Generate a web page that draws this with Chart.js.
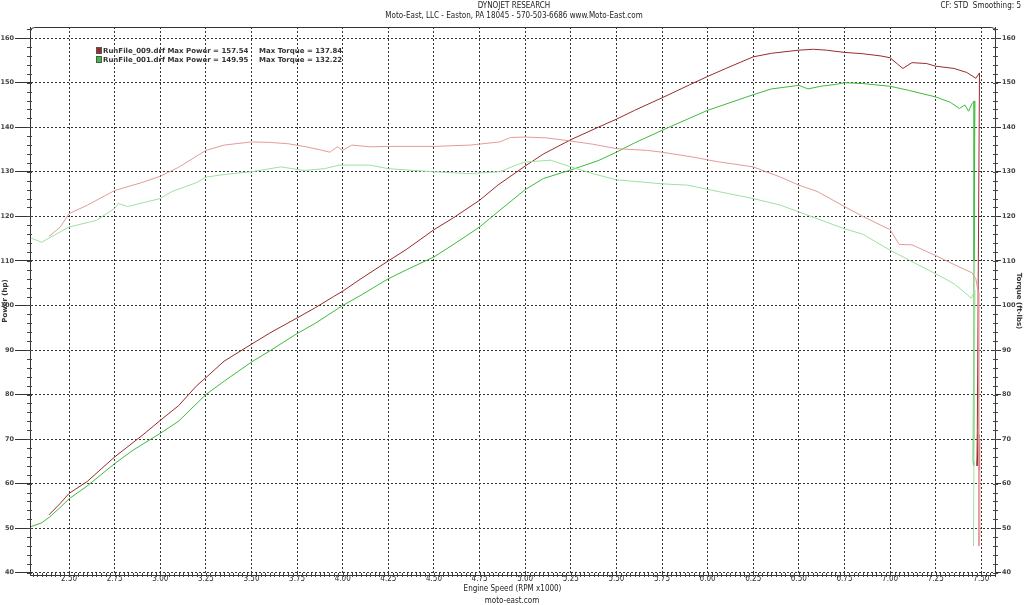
<!DOCTYPE html>
<html><head><meta charset="utf-8">
<script src="https://cdn.jsdelivr.net/npm/chart.js@4.4.0/dist/chart.umd.min.js"></script>
<style>html,body{margin:0;padding:0;background:#fff;}#wrap{width:1024px;height:605px;position:relative;}</style>
</head><body><div id="wrap"><canvas id="c" width="1024" height="605"></canvas></div>
<script>
// ---- tick labels ----
const rpmTicks = [2.50,2.75,3.00,3.25,3.50,3.75,4.00,4.25,4.50,4.75,5.00,5.25,5.50,5.75,6.00,6.25,6.50,6.75,7.00,7.25,7.50];
const valueTicks = [40,50,60,70,80,90,100,110,120,130,140,150,160];

// ---- RunFile_009 (red) power ----
const run009PowerRpm = [2.39,2.45,2.50,2.60,2.75,2.90,3.00,3.10,3.20,3.25,3.35,3.50,3.60,3.75,3.85,3.95,4.00,4.10,4.25,4.35,4.50,4.60,4.75,4.85,5.00,5.10,5.25,5.40,5.50,5.60,5.75,5.90,6.00,6.10,6.25,6.35,6.50,6.58,6.65,6.75,6.85,6.95,7.00,7.04,7.07,7.12,7.20,7.25,7.35,7.42,7.47,7.49,7.478,7.476,7.487,7.483,7.49,7.489];
const run009Power    = [53.0,55.5,57.8,60.5,66.0,70.8,74.2,77.5,82.0,83.8,87.5,91.3,93.8,97.2,99.5,102.0,103.2,106.0,110.0,112.6,117.0,119.5,123.6,127.0,131.3,134.0,137.2,140.0,141.8,143.8,146.6,149.5,151.4,153.2,155.8,156.6,157.3,157.5,157.3,156.8,156.5,156.0,155.6,154.2,153.2,154.5,154.3,153.7,153.2,152.3,151.0,152.2,72.0,64.0,71.0,64.0,69.0,63.0];
// ---- RunFile_009 (red) torque ----
const run009TorqueRpm = [2.39,2.45,2.50,2.60,2.75,2.90,3.00,3.10,3.25,3.35,3.50,3.60,3.70,3.80,3.87,3.93,3.97,4.00,4.05,4.15,4.25,4.50,4.70,4.86,4.92,5.00,5.12,5.25,5.37,5.50,5.67,5.75,5.92,6.05,6.25,6.40,6.50,6.60,6.75,6.85,7.00,7.05,7.12,7.25,7.35,7.45,7.47,7.483,7.486,7.487,7.49,7.492];
const run009Torque    = [115.5,117.5,120.6,122.5,125.8,127.6,129.0,131.0,134.8,136.0,136.7,136.6,136.3,135.6,135.0,134.4,135.6,134.8,136.0,135.6,135.7,135.7,136.0,136.7,137.7,137.8,137.6,136.9,136.2,135.2,134.8,134.4,133.3,132.3,131.1,128.8,127.0,125.6,122.2,120.0,117.0,113.7,113.6,111.2,109.2,107.3,106.0,103.0,60.0,46.0,48.0,70.0];

// ---- RunFile_001 (green) power ----
const run001PowerRpm = [2.28,2.35,2.39,2.45,2.50,2.60,2.75,2.85,3.00,3.10,3.25,3.35,3.50,3.60,3.75,3.85,4.00,4.10,4.25,4.35,4.50,4.60,4.75,4.85,5.00,5.10,5.25,5.40,5.50,5.60,5.75,5.90,6.00,6.10,6.25,6.35,6.50,6.55,6.62,6.70,6.75,6.85,7.00,7.10,7.25,7.33,7.38,7.41,7.43,7.45,7.465,7.46,7.455,7.458];
const run001Power    = [50.2,51.2,52.4,54.6,56.6,59.5,64.5,67.5,71.3,74.0,80.0,83.0,87.3,89.8,93.7,96.0,100.0,102.3,106.0,108.0,110.9,113.5,117.6,121.0,126.0,128.5,130.4,132.5,134.4,136.5,139.3,142.0,143.8,145.2,147.3,148.6,149.4,148.6,149.2,149.6,150.0,149.8,149.2,148.3,146.8,145.6,144.2,145.0,143.6,145.4,145.9,110.0,65.0,64.0];
// ---- RunFile_001 (green) torque ----
const run001TorqueRpm = [2.28,2.35,2.42,2.50,2.65,2.75,2.77,2.82,3.00,3.06,3.20,3.25,3.35,3.50,3.66,3.79,3.90,3.98,4.15,4.25,4.50,4.69,4.86,4.95,5.00,5.14,5.25,5.37,5.50,5.75,5.89,6.03,6.25,6.40,6.50,6.75,6.85,7.00,7.25,7.35,7.43,7.445,7.465,7.46,7.457];
const run001Torque    = [115.3,114.2,115.8,117.6,119.1,121.8,122.9,122.2,124.0,125.5,127.6,128.8,129.4,130.0,131.1,130.3,130.7,131.5,131.5,130.7,130.0,129.6,130.0,131.5,132.2,132.6,131.1,129.6,128.2,127.3,127.0,125.8,124.0,122.5,121.0,117.2,116.0,112.4,107.1,104.9,102.2,101.6,103.4,70.0,46.0];

const pts = (xs, ys) => xs.map((x, i) => ({x: x, y: ys[i]}));

const RED_P = '#9a2b2b', RED_T = '#e59a9a', GRN_P = '#3dbb3d', GRN_T = '#9fe09f';
const NARROW = "'Liberation Sans Narrow','DejaVu Sans Condensed','Arial Narrow',sans-serif";
const BOLD = "'DejaVu Sans',Verdana,sans-serif";

const decor = {
  id: 'decor',
  afterDraw(chart) {
    const ctx = chart.ctx, a = chart.chartArea;
    const xs = chart.scales.x, yl = chart.scales.y, yr = chart.scales.y1;
    ctx.save();
    // frame with rounded top corners
    ctx.strokeStyle = '#333'; ctx.lineWidth = 1;
    const L = a.left + 0.5, R = a.right + 0.5, T = a.top + 0.5, B = a.bottom + 0.5, r = 4;
    ctx.beginPath();
    ctx.moveTo(L, B); ctx.lineTo(L, T + r); ctx.quadraticCurveTo(L, T, L + r, T);
    ctx.lineTo(R - r, T); ctx.quadraticCurveTo(R, T, R, T + r); ctx.lineTo(R, B); ctx.closePath();
    ctx.stroke();
    // minor ticks on value axes
    ctx.strokeStyle = '#444';
    for (let v = 40; v <= 162; v += 2) {
      const y = Math.round(yl.getPixelForValue(v)) + 0.5;
      ctx.beginPath(); ctx.moveTo(a.left - 3, y); ctx.lineTo(a.left + 2, y); ctx.stroke();
      const y2 = Math.round(yr.getPixelForValue(v)) + 0.5;
      ctx.beginPath(); ctx.moveTo(a.right - 2, y2); ctx.lineTo(a.right + 3, y2); ctx.stroke();
    }
    // minor ticks on rpm axis
    for (let v = 2.30; v <= 7.60; v += 0.025) {
      const x = Math.round(xs.getPixelForValue(v)) + 0.5;
      ctx.beginPath(); ctx.moveTo(x, a.bottom - 2); ctx.lineTo(x, a.bottom + 2); ctx.stroke();
    }
    // header texts
    ctx.fillStyle = '#222'; ctx.textBaseline = 'middle';
    ctx.font = "8px " + NARROW; ctx.textAlign = 'center';
    ctx.fillText('DYNOJET RESEARCH', 514, 6);
    ctx.fillText('Moto-East, LLC - Easton, PA 18045 - 570-503-6686 www.Moto-East.com', 514, 16);
    ctx.textAlign = 'right';
    ctx.fillText('CF: STD  Smoothing: 5', 1021, 6);
    ctx.textAlign = 'center';
    ctx.fillText('moto-east.com', 512, 601);
    // legend
    const leg = [[RED_P, 'RunFile_009.drf Max Power = 157.54', 'Max Torque = 137.84', 51],
                 [GRN_P, 'RunFile_001.drf Max Power = 149.95', 'Max Torque = 132.22', 60]];
    ctx.font = "bold 7px " + BOLD; ctx.textAlign = 'left';
    leg.forEach(([c, t1, t2, y]) => {
      ctx.fillStyle = c; ctx.fillRect(96, y - 4, 6, 7);
      ctx.strokeStyle = '#555'; ctx.strokeRect(96.5, y - 3.5, 5, 6);
      ctx.fillStyle = '#333';
      ctx.fillText(t1, 103, y);
      ctx.fillText(t2, 259, y);
    });
    ctx.restore();
  }
};

const tickFontBold = {family: BOLD, size: 6.5, weight: 'bold'};
new Chart(document.getElementById('c'), {
  type: 'line',
  data: {
    datasets: [
      {label: 'RunFile_009 Torque', data: pts(run009TorqueRpm, run009Torque), yAxisID: 'y1', borderColor: RED_T, borderWidth: 1},
      {label: 'RunFile_001 Torque', data: pts(run001TorqueRpm, run001Torque), yAxisID: 'y1', borderColor: GRN_T, borderWidth: 1},
      {label: 'RunFile_001 Power', data: pts(run001PowerRpm, run001Power), yAxisID: 'y', borderColor: GRN_P, borderWidth: 1},
      {label: 'RunFile_009 Power', data: pts(run009PowerRpm, run009Power), yAxisID: 'y', borderColor: RED_P, borderWidth: 1}
    ]
  },
  options: {
    responsive: false, animation: false, devicePixelRatio: 1,
    layout: {padding: {top: 27, left: 0, right: 0, bottom: 0}},
    elements: {point: {radius: 0}, line: {tension: 0, fill: false}},
    plugins: {legend: {display: false}, tooltip: {enabled: false}},
    scales: {
      x: {
        type: 'linear', min: 2.286, max: 7.575,
        afterBuildTicks: s => { s.ticks = rpmTicks.map(v => ({value: v})); },
        afterFit: s => { s.height = 30; },
        ticks: {callback: v => Number(v).toFixed(2), font: {family: NARROW, size: 8}, color: '#333', padding: -1, maxRotation: 0, autoSkip: false},
        grid: {color: '#333', lineWidth: 1, drawTicks: false, tickLength: 0},
        border: {display: true, color: '#333', dash: [2, 2]},
        title: {display: true, text: 'Engine Speed (RPM x1000)', font: {family: NARROW, size: 8}, color: '#222', padding: {top: 0, bottom: 11}}
      },
      y: {
        position: 'left', min: 39.5, max: 162.5,
        afterBuildTicks: s => { s.ticks = valueTicks.map(v => ({value: v})); },
        afterFit: s => { s.width = 30; },
        ticks: {font: tickFontBold, color: '#444', padding: 1},
        grid: {color: '#333', lineWidth: 1, tickLength: 15},
        border: {display: true, color: '#333', dash: [2, 2]},
        title: {display: true, text: 'Power (hp)', font: {family: BOLD, size: 7, weight: 'bold'}, color: '#333', padding: {top: 1, bottom: 0}}
      },
      y1: {
        position: 'right', min: 39.5, max: 162.5,
        afterBuildTicks: s => { s.ticks = valueTicks.map(v => ({value: v})); },
        afterFit: s => { s.width = 29; },
        ticks: {font: tickFontBold, color: '#444', padding: 1},
        grid: {drawOnChartArea: false, color: '#333', lineWidth: 1, tickLength: 6},
        border: {display: true, color: '#333', dash: [2, 2]},
        title: {display: true, text: 'Torque (ft-lbs)', font: {family: BOLD, size: 7, weight: 'bold'}, color: '#333', padding: {top: 1, bottom: 0}}
      }
    }
  },
  plugins: [decor]
});
</script>
</body></html>
